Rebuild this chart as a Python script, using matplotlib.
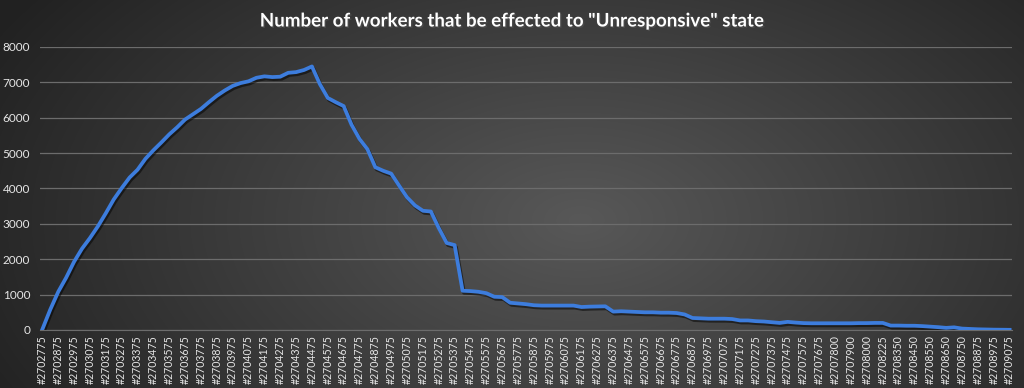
import numpy as np
import matplotlib
matplotlib.use("Agg")
import matplotlib.pyplot as plt
import matplotlib.patheffects as pe

title = 'Number of workers that be effected to "Unresponsive" state'

# worker ids shown on the category axis
tick_ids = list(range(2702775, 2707676, 100)) + [
    2707800, 2707900, 2708000, 2708225, 2708350, 2708450,
    2708550, 2708650, 2708750, 2708875, 2708975, 2709075,
]
tick_labels = ["#" + str(t) for t in tick_ids]

# worker counts, two samples per labelled category
workers = [
    20, 580, 1080, 1480, 1930, 2300, 2600, 2930, 3300, 3690,
    4010, 4310, 4530, 4840, 5080, 5300, 5530, 5730, 5950, 6100,
    6250, 6440, 6620, 6770, 6900, 6980, 7030, 7130, 7170, 7150,
    7160, 7270, 7290, 7350, 7450, 6950, 6560, 6440, 6330, 5800,
    5400, 5110, 4600, 4500, 4420, 4080, 3750, 3520, 3370, 3350,
    2880, 2460, 2400, 1110, 1100, 1080, 1040, 940, 930, 770,
    750, 730, 700, 690, 690, 690, 690, 690, 650, 660,
    665, 670, 520, 530, 520, 510, 500, 500, 490, 490,
    480, 440, 340, 330, 320, 320, 320, 310, 270, 270,
    250, 240, 220, 200, 230, 210, 195, 190, 190, 190,
    190, 190, 190, 195, 195, 200, 200, 125, 125, 120,
    120, 110, 95, 80, 60, 75, 40, 30, 20, 15,
    10, 8, 5,
]

W, H = 1024, 388
fig = plt.figure(figsize=(W / 100, H / 100), dpi=100)

# radial grey background
yy, xx = np.mgrid[0:H, 0:W]
d = np.sqrt(((xx - 580) / 560.0) ** 2 + ((yy - 220) / 330.0) ** 2)
shade = np.clip(0.345 - 0.18 * d, 0.13, 0.36)
bg = fig.add_axes([0, 0, 1, 1])
bg.imshow(np.dstack([shade] * 3), aspect="auto", extent=[0, 1, 0, 1])
bg.axis("off")

ax = fig.add_axes([40 / W, 1 - 330 / H, 972 / W, 283 / H])
ax.patch.set_alpha(0)

x = np.arange(len(workers)) * 0.5
ax.plot(x, workers, color="#3d7ddd", lw=2.7, solid_joinstyle="round", zorder=3,
        path_effects=[pe.SimpleLineShadow(offset=(1, -1.5), alpha=0.5), pe.Normal()])

ax.set_xlim(-0.15, len(tick_ids) - 1 + 0.15)
ax.set_ylim(0, 8000)
ax.set_yticks(range(0, 8001, 1000))
ax.set_xticks(range(len(tick_ids)))
ax.set_xticklabels(tick_labels, rotation=90, fontsize=7.6, color="#e6e6e6", family="Lato")
ax.tick_params(axis="y", labelsize=8.5, colors="#e6e6e6", length=0, pad=7)
ax.tick_params(axis="x", length=0, pad=4)
for lab in ax.get_yticklabels():
    lab.set_family("Lato")

ax.grid(axis="y", color="#6c6c6c", lw=0.9)
ax.set_axisbelow(True)
for s in ["top", "right", "left"]:
    ax.spines[s].set_visible(False)
ax.spines["bottom"].set_color("#6c6c6c")

fig.text(0.5, 1 - 21 / H, title, ha="center", va="center", color="white",
         fontsize=13.5, fontweight="bold", family="Lato",
         path_effects=[pe.withSimplePatchShadow(offset=(1, -1), alpha=0.8)])

fig.savefig("out.png", dpi=100)
